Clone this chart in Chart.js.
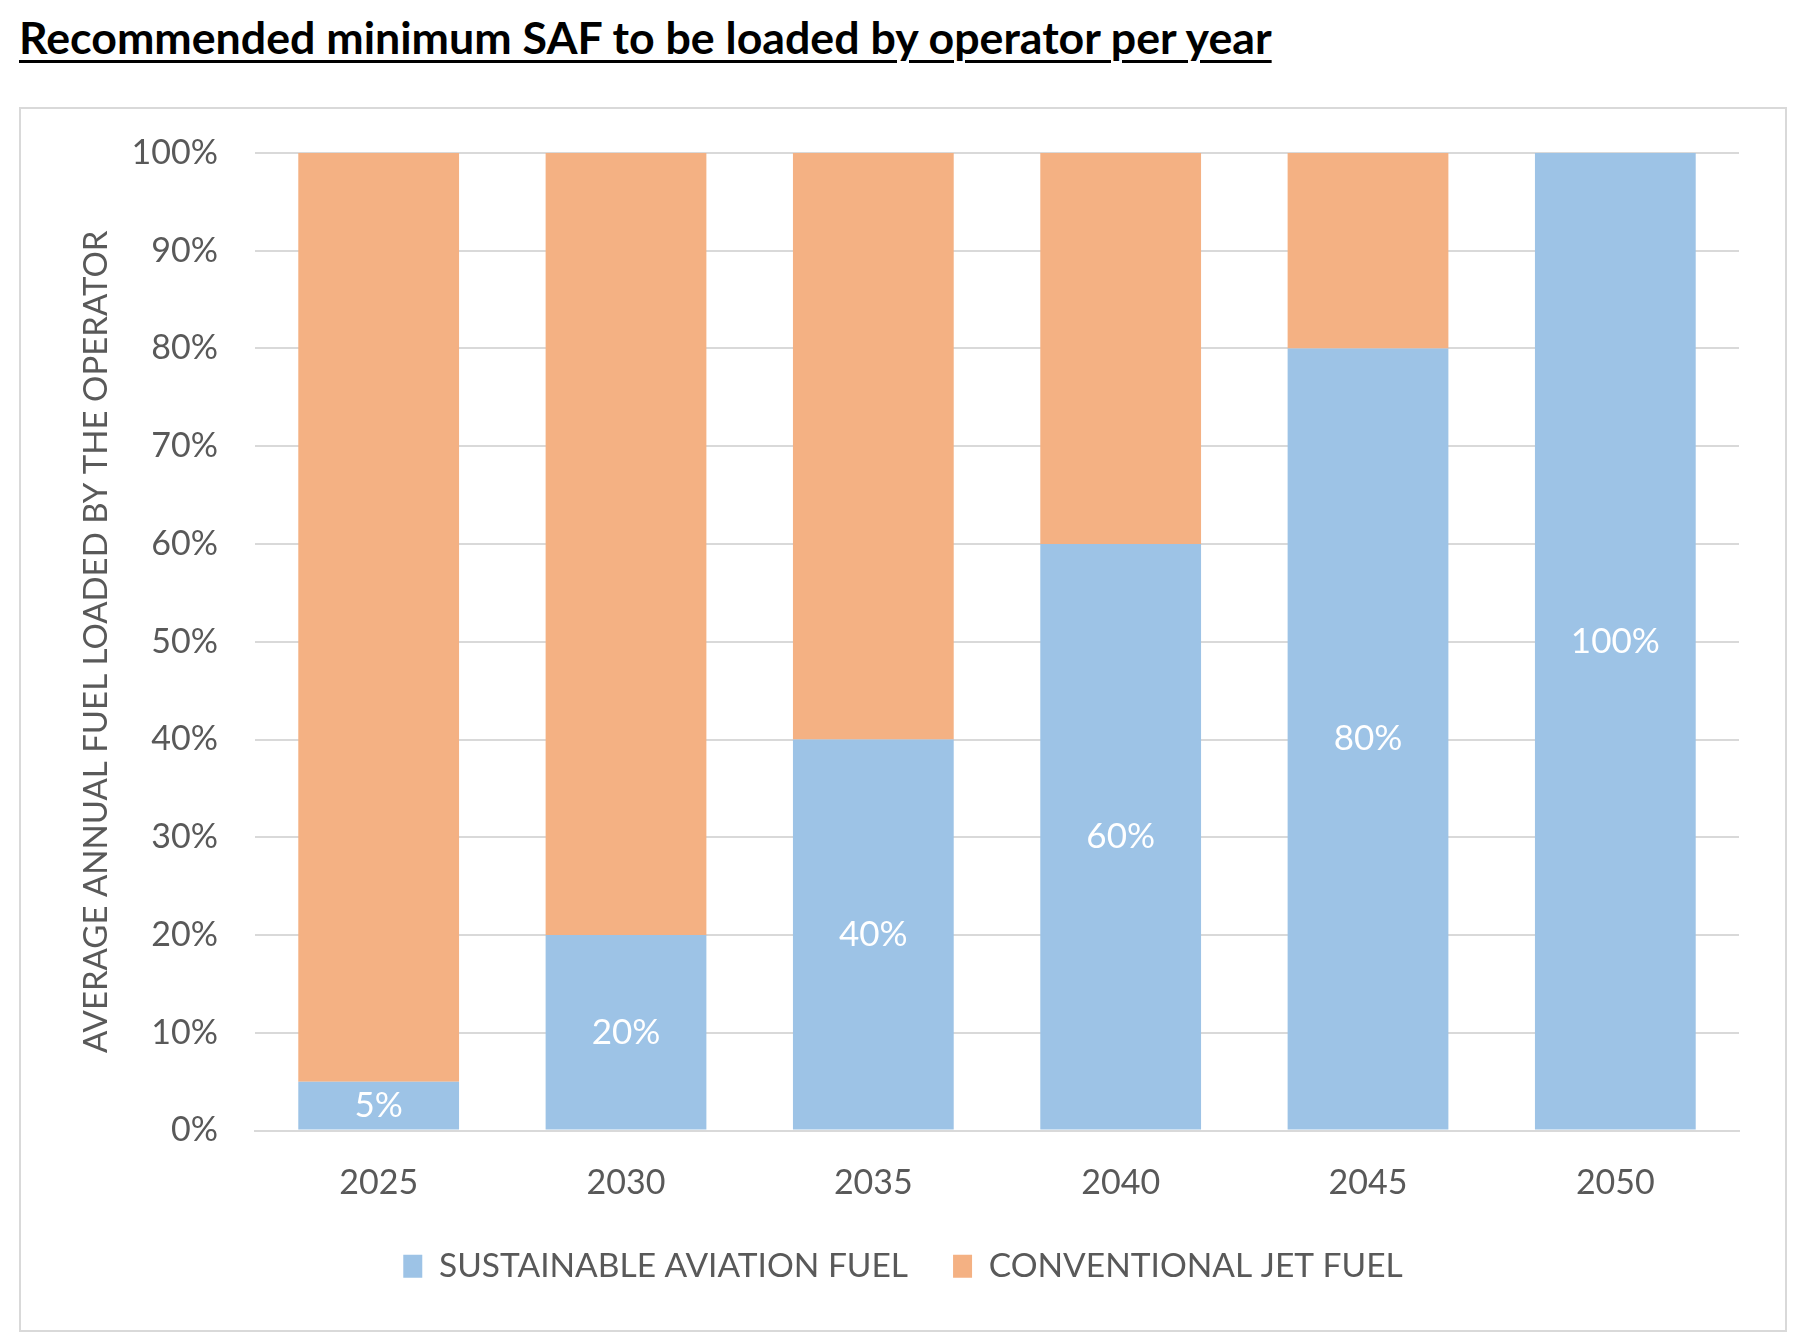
<!DOCTYPE html>
<html>
<head>
<meta charset="utf-8">
<script src="https://cdn.jsdelivr.net/npm/chart.js@4.4.0/dist/chart.umd.min.js"></script>
<style>
  body { margin: 0; background: #fff; width: 1800px; height: 1342px; position: relative; overflow: hidden; }
  #title {
    position: absolute; left: 19px; top: 10px;
    font-family: Lato, sans-serif; font-weight: bold; font-size: 44.7px;
    color: #000; text-decoration: underline; text-decoration-thickness: 3px;
    text-underline-offset: 6px; white-space: nowrap;
  }
  #box {
    position: absolute; left: 19px; top: 107px; width: 1764px; height: 1221px;
    border: 2px solid #d9d9d9;
  }
</style>
</head>
<body>
<div id="title">Recommended minimum SAF to be loaded by operator per year</div>
<div id="box"><canvas id="myChart"></canvas></div>
<script>
// data
var years = ['2025', '2030', '2035', '2040', '2045', '2050'];
var safValues = [5, 20, 40, 60, 80, 100];
var jetValues = [95, 80, 60, 40, 20, 0];
var seriesNames = ['SUSTAINABLE AVIATION FUEL', 'CONVENTIONAL JET FUEL'];
var yTicks = [0, 10, 20, 30, 40, 50, 60, 70, 80, 90, 100];
var yTitle = 'AVERAGE ANNUAL FUEL LOADED BY THE OPERATOR';

var gray = '#595959';

// white % labels in the middle of the SAF bars
const barLabels = {
    id: 'barLabels',
    afterDatasetsDraw(chart) {
        const ctx = chart.ctx;
        const meta = chart.getDatasetMeta(0);
        ctx.save();
        ctx.fillStyle = '#ffffff';
        ctx.font = '35px Lato';
        ctx.textAlign = 'center';
        ctx.textBaseline = 'middle';
        meta.data.forEach(function (bar, i) {
            ctx.fillText(safValues[i] + '%', bar.x, (bar.y + bar.base) / 2);
        });
        ctx.restore();
    }
};

Chart.defaults.font.family = 'Lato';
Chart.defaults.color = gray;

var ctx = document.getElementById('myChart').getContext('2d');
var chart = new Chart(ctx, {
    type: 'bar',
    data: {
        labels: years,
        datasets: [{
            label: seriesNames[0],
            backgroundColor: '#9dc3e6',
            data: safValues
        }, {
            label: seriesNames[1],
            backgroundColor: '#f4b183',
            data: jetValues
        }]
    },
    options: {
        responsive: true,
        maintainAspectRatio: false,
        animation: false,
        devicePixelRatio: 1,
        layout: { padding: { top: 44, right: 46, bottom: 37, left: 46 } },
        plugins: {
            tooltip: { enabled: false },
            legend: {
                position: 'bottom',
                labels: {
                    boxWidth: 19,
                    boxHeight: 23,
                    padding: 45,
                    color: gray,
                    font: { size: 33.5 }
                }
            }
        },
        datasets: {
            bar: { barPercentage: 0.65, categoryPercentage: 1 }
        },
        scales: {
            x: {
                stacked: true,
                grid: { display: false },
                border: { display: true, color: '#d9d9d9', width: 2 },
                ticks: { padding: 24, color: gray, font: { size: 34 } },
                afterFit: function (s) { s.height = 74; }
            },
            y: {
                stacked: true,
                min: 0,
                max: 100,
                afterBuildTicks: function (s) { s.ticks = yTicks.map(function (v) { return { value: v }; }); },
                // invisible tick marks give the gap between labels and plot
                grid: { color: '#d9d9d9', lineWidth: 2, drawTicks: true, tickLength: 37, tickColor: 'rgba(0,0,0,0)' },
                border: { display: false },
                ticks: {
                    padding: 0,
                    color: gray,
                    font: { size: 34 },
                    callback: function (v) { return v + '%'; }
                },
                title: {
                    display: true,
                    text: yTitle,
                    color: gray,
                    font: { size: 33 },
                    padding: { top: 10, bottom: 0 }
                },
                afterFit: function (s) { s.width = 188; }
            }
        }
    },
    plugins: [barLabels]
});
</script>
</body>
</html>
